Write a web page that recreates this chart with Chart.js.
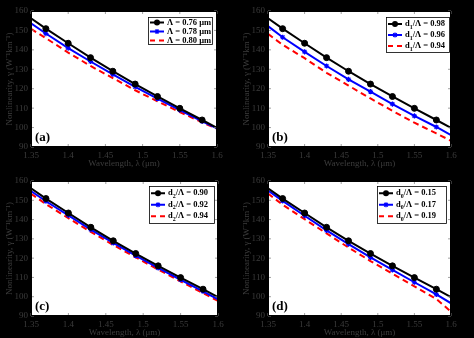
<!DOCTYPE html>
<html>
<head>
<meta charset="utf-8">
<script src="https://cdn.jsdelivr.net/npm/chart.js@4.4.1/dist/chart.umd.min.js"></script>
<style>
  html, body { margin: 0; padding: 0; background: #000; }
  #wrap { position: relative; width: 474px; height: 338px; background: #000; }
  .cell { position: absolute; }
  canvas { display: block; }
</style>
</head>
<body>
<div id="wrap">
  <div class="cell" style="left:0;top:0"><canvas id="pa" width="237" height="169"></canvas></div>
  <div class="cell" style="left:237px;top:0"><canvas id="pb" width="237" height="169"></canvas></div>
  <div class="cell" style="left:0;top:169px"><canvas id="pc" width="237" height="169"></canvas></div>
  <div class="cell" style="left:237px;top:169px"><canvas id="pd" width="237" height="169"></canvas></div>
</div>
<script>
// wavelength samples (um); markers only on the inner points
const wavelength = [1.35, 1.37, 1.40, 1.43, 1.46, 1.49, 1.52, 1.55, 1.58, 1.60]
const xTicks = [1.35, 1.4, 1.45, 1.5, 1.55, 1.6]
const yTicks = [90, 100, 110, 120, 130, 140, 150, 160]

// nonlinearity gamma (W^-1 km^-1), reference design (black curve in every panel)
const gammaRef = [156.2, 150.9, 143.4, 136.0, 129.0, 122.4, 116.0, 109.9, 103.9, 99.8]

// (a) pitch
const gammaA2 = [153.7, 148.4, 140.9, 134.0, 127.4, 121.0, 114.9, 109.0, 103.2, 99.6]
const gammaA3 = [150.8, 146.0, 138.6, 131.7, 125.5, 119.2, 113.5, 108.0, 102.7, 99.4]
// (b) d1
const gammaB2 = [152.2, 146.5, 139.0, 131.7, 124.8, 118.5, 112.1, 106.0, 100.3, 96.1]
const gammaB3 = [148.2, 142.6, 135.7, 128.2, 121.6, 115.0, 108.6, 102.5, 97.0, 93.2]
// (c) d2
const gammaC2 = [154.8, 149.5, 142.2, 134.8, 127.9, 121.3, 114.9, 108.8, 102.8, 98.6]
const gammaC3 = [153.4, 148.0, 140.7, 133.6, 126.8, 120.4, 114.1, 107.9, 101.9, 97.8]
// (d) d0
const gammaD2 = [155.0, 149.7, 142.0, 134.4, 127.3, 120.4, 113.9, 107.5, 101.2, 96.6]
const gammaD3 = [153.5, 147.7, 140.2, 132.8, 125.5, 118.5, 111.9, 105.4, 98.8, 92.2]

const labelsA = ["Λ = 0.76 μm", "Λ = 0.78 μm", "Λ = 0.80 μm"]
const labelsB = ["d_1/Λ = 0.98", "d_1/Λ = 0.96", "d_1/Λ = 0.94"]
const labelsC = ["d_2/Λ = 0.90", "d_2/Λ = 0.92", "d_2/Λ = 0.94"]
const labelsD = ["d_0/Λ = 0.15", "d_0/Λ = 0.17", "d_0/Λ = 0.19"]

const serif = "'Liberation Serif', 'Times New Roman', serif"
const axisGray = "#3c3c3c"

const styles = [
    { color: "#000000", dash: [], pointStyle: "circle", radius: 3, bw: 1 },
    { color: "#0000ff", dash: [], pointStyle: "star", radius: 2.6, bw: 1.2 },
    { color: "#ff0000", dash: [6, 4], pointStyle: false, radius: 0, bw: 1 }
]

function drawLabel(ctx, text, x, y, size) {
    // "d_1/..." -> d with subscript 1
    let parts = text.split("_")
    ctx.font = "bold " + size + "px " + serif
    ctx.fillText(parts[0], x, y)
    x += ctx.measureText(parts[0]).width
    if (parts.length > 1) {
        let sub = parts[1].charAt(0)
        let rest = parts[1].slice(1)
        ctx.font = "bold " + (size * 0.7) + "px " + serif
        ctx.fillText(sub, x, y + size * 0.35)
        x += ctx.measureText(sub).width
        ctx.font = "bold " + size + "px " + serif
        ctx.fillText(rest, x, y)
    }
}

function drawMarker(ctx, st, x, y) {
    ctx.strokeStyle = st.color
    ctx.fillStyle = st.color
    ctx.lineWidth = st.bw
    ctx.beginPath()
    if (st.pointStyle === "circle") {
        ctx.arc(x, y, st.radius, 0, Math.PI * 2)
        ctx.fill()
    } else if (st.pointStyle === "star") {
        let r = st.radius
        ctx.moveTo(x - r, y); ctx.lineTo(x + r, y)
        ctx.moveTo(x, y - r); ctx.lineTo(x, y + r)
        let d = r * 0.7
        ctx.moveTo(x - d, y - d); ctx.lineTo(x + d, y + d)
        ctx.moveTo(x - d, y + d); ctx.lineTo(x + d, y - d)
        ctx.stroke()
    }
}

function makePanelPlugin(tag, box) {
    return {
        id: "panel",
        beforeDraw(chart) {
            let { ctx, chartArea: a } = chart
            ctx.save()
            ctx.fillStyle = "#ffffff"
            ctx.fillRect(a.left, a.top, a.right - a.left, a.bottom - a.top)
            ctx.restore()
        },
        afterDatasetsDraw(chart) {
            let { ctx, chartArea: a, scales } = chart
            ctx.save()
            // inward tick marks
            ctx.strokeStyle = "#8a8a8a"
            ctx.lineWidth = 0.8
            ctx.beginPath()
            xTicks.forEach(v => {
                let px = scales.x.getPixelForValue(v)
                ctx.moveTo(px, a.bottom); ctx.lineTo(px, a.bottom - 3)
                ctx.moveTo(px, a.top); ctx.lineTo(px, a.top + 3)
            })
            yTicks.forEach(v => {
                let py = scales.y.getPixelForValue(v)
                ctx.moveTo(a.left, py); ctx.lineTo(a.left + 3, py)
                ctx.moveTo(a.right, py); ctx.lineTo(a.right - 3, py)
            })
            ctx.stroke()
            ctx.strokeStyle = "#000"
            ctx.lineWidth = 1
            ctx.strokeRect(a.left + 0.5, a.top + 0.5, a.right - a.left - 1, a.bottom - a.top - 1)
            ctx.restore()
        },
        afterDraw(chart) {
            let { ctx, chartArea: a } = chart
            ctx.save()
            // legend box
            let x0 = Math.round(a.right - box.dx - box.w)
            let y0 = Math.round(a.top + box.dy)
            ctx.fillStyle = "#ffffff"
            ctx.fillRect(x0, y0, box.w, box.h)
            ctx.strokeStyle = "#000"
            ctx.lineWidth = 0.8
            ctx.strokeRect(x0 + 0.5, y0 + 0.5, box.w - 1, box.h - 1)
            chart.data.datasets.forEach((ds, i) => {
                let st = styles[i]
                let y = y0 + box.pad + (i + 0.5) * box.row
                ctx.strokeStyle = st.color
                ctx.lineWidth = 2
                ctx.setLineDash(st.dash.length ? [5, 4] : [])
                ctx.beginPath()
                ctx.moveTo(x0 + 2, y); ctx.lineTo(x0 + 16, y)
                ctx.stroke()
                ctx.setLineDash([])
                if (st.pointStyle) drawMarker(ctx, st, x0 + 9, y)
                ctx.fillStyle = "#000"
                ctx.textBaseline = "middle"
                ctx.textAlign = "left"
                drawLabel(ctx, ds.label, x0 + 19, y, 8.5)
            })
            // panel tag
            ctx.fillStyle = "#000"
            ctx.textBaseline = "alphabetic"
            ctx.font = "bold 13px " + serif
            ctx.fillText(tag, a.left + 4, a.bottom - 6)
            ctx.restore()
        }
    }
}

function makeChart(id, series, labels, tag, rightPad, topPad, box) {
    new Chart(document.getElementById(id), {
        type: "line",
        data: {
            datasets: series.map((vals, i) => ({
                label: labels[i],
                data: wavelength.map((x, j) => ({ x: x, y: vals[j] })),
                borderColor: styles[i].color,
                backgroundColor: styles[i].color,
                borderWidth: 2,
                borderDash: styles[i].dash,
                pointStyle: styles[i].pointStyle,
                pointBorderWidth: styles[i].bw,
                pointBorderColor: styles[i].color,
                pointBackgroundColor: styles[i].color,
                pointRadius: ctx => (ctx.dataIndex === 0 || ctx.dataIndex === wavelength.length - 1) ? 0 : styles[i].radius,
                tension: 0,
                fill: false
            }))
        },
        options: {
            responsive: false,
            animation: false,
            events: [],
            layout: { padding: { left: 0, right: rightPad, top: topPad, bottom: 0 } },
            plugins: {
                legend: { display: false },
                tooltip: { enabled: false }
            },
            scales: {
                x: {
                    type: "linear",
                    min: 1.35,
                    max: 1.6,
                    afterBuildTicks: s => { s.ticks = xTicks.map(v => ({ value: v })) },
                    afterFit: s => { s.height = 22 },
                    grid: { display: false, drawTicks: false },
                    border: { display: false },
                    ticks: {
                        color: axisGray,
                        font: { family: serif, size: 9 },
                        padding: 3,
                        maxRotation: 0,
                        autoSkip: false,
                        callback: v => String(v)
                    },
                    title: {
                        display: true,
                        text: "Wavelength, λ (μm)",
                        color: axisGray,
                        font: { family: serif, size: 9 },
                        padding: 0
                    }
                },
                y: {
                    type: "linear",
                    min: 90,
                    max: 160,
                    afterBuildTicks: s => { s.ticks = yTicks.map(v => ({ value: v })) },
                    afterFit: s => { s.width = 31 },
                    grid: { display: false, drawTicks: false },
                    border: { display: false },
                    ticks: {
                        color: axisGray,
                        font: { family: serif, size: 9 },
                        padding: 3,
                        autoSkip: false
                    },
                    title: {
                        display: true,
                        text: "Nonlinearity, γ (W⁻¹km⁻¹)",
                        color: axisGray,
                        font: { family: serif, size: 9 },
                        padding: { top: 4.5, bottom: 0 }
                    }
                }
            }
        },
        plugins: [makePanelPlugin(tag, box)]
    })
}

makeChart("pa", [gammaRef, gammaA2, gammaA3], labelsA, "(a)", 20, 11, { dx: 4, dy: 6, w: 65, h: 28, pad: 1, row: 9 })
makeChart("pb", [gammaRef, gammaB2, gammaB3], labelsB, "(b)", 23, 11, { dx: 1, dy: 6, w: 64, h: 36, pad: 1.5, row: 11 })
makeChart("pc", [gammaRef, gammaC2, gammaC3], labelsC, "(c)", 19, 12, { dx: 3, dy: 5, w: 66, h: 38, pad: 1.5, row: 11.5 })
makeChart("pd", [gammaRef, gammaD2, gammaD3], labelsD, "(d)", 23, 12, { dx: 4, dy: 5, w: 70, h: 38, pad: 1.5, row: 11.5 })
</script>
</body>
</html>
